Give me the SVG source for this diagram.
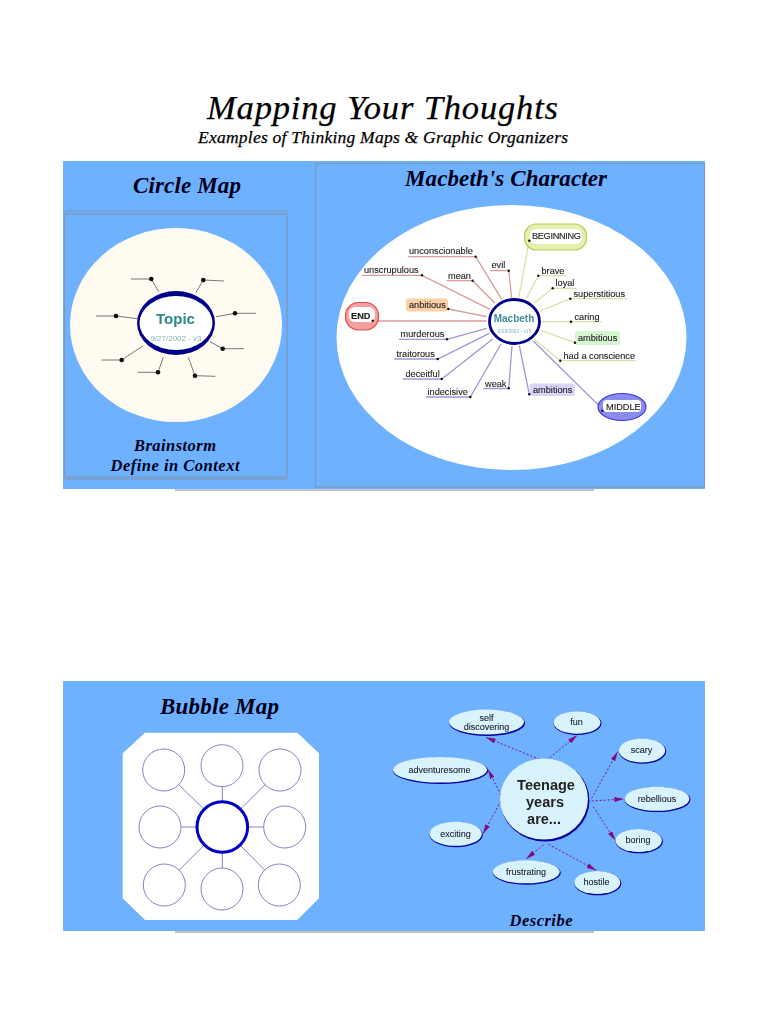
<svg xmlns="http://www.w3.org/2000/svg" width="768" height="1024" viewBox="0 0 768 1024">
<style>
.t{font-family:"Liberation Serif",serif;font-style:italic;fill:#000}
.s{stroke:#000;stroke-width:.25}
.h{font-weight:bold;font-size:23px;fill:#00001a}
.c{font-weight:bold;font-size:16.500px;fill:#00001a;text-anchor:middle}
.l{font-family:"Liberation Sans",sans-serif;font-size:9.200px;fill:#222;stroke:#222;stroke-width:.12}
.b{font-family:"Liberation Sans",sans-serif;font-size:9px;fill:#223;stroke:#223;stroke-width:.1;text-anchor:middle}
.fr{fill:none;stroke:#7f97b5;stroke-width:1.200}
.sp{fill:none;stroke:#777;stroke-width:1}
.r{fill:none;stroke:#dc9a9a;stroke-width:1.300}
.u{fill:none;stroke:#9a9ad6;stroke-width:1.300}
.g{fill:none;stroke:#dcdfa8;stroke-width:1.300}
.bb{fill:#fff;stroke:#8a80c8;stroke-width:1}
.bs{stroke:#8a80c8;stroke-width:1;fill:none}
.ar{fill:none;stroke:#80107f;stroke-width:1;stroke-dasharray:2 2;marker-end:url(#ah)}
.sh{fill:#0000a0}
.bu{fill:#d8f3fb}
</style>
<defs>
<marker id="ah" markerUnits="userSpaceOnUse" markerWidth="10" markerHeight="5" refX="9" refY="2.500" orient="auto"><path d="M0 0L10 2.500L0 5Z" fill="#80107f"/></marker>
<filter id="soft" x="-5%" y="-5%" width="110%" height="110%"><feGaussianBlur stdDeviation="0.3"/></filter>
</defs>
<rect width="768" height="1024" fill="#fff"/>
<g id="titles">
<text class="t s" x="207" y="119" font-size="34.500" textLength="351">Mapping Your Thoughts</text>
<text class="t s" x="198" y="143" font-size="17.500" textLength="370">Examples of Thinking Maps &amp; Graphic Organizers</text>
</g>
<g id="panel-top">
<rect x="63" y="161" width="642" height="328" fill="#6eb1ff"/>
<rect x="175" y="489" width="419" height="2" fill="#c4c4c4"/>
</g>
<g id="panel-bottom">
<rect x="63" y="681" width="642" height="250" fill="#6eb1ff"/>
<rect x="175" y="931" width="419" height="2" fill="#c4c4c4"/>
</g>
<g id="circle-map">
<path class="fr" d="M63 211H288M63 479H288"/>
<rect class="fr" x="64.500" y="214" width="222.500" height="263"/>
<text class="t h" x="133" y="193" textLength="108">Circle Map</text>
<ellipse cx="176" cy="325" rx="106" ry="97" fill="#fffbf0"/>
<g filter="url(#soft)">
<path class="sp" d="M158.700 291.700L151.300 279H131M196 292.300L203.300 280L224 281M216 316.700L235 313.300H256M210 341.700L222.700 348.700H244M188.300 357.300L195 375.700L215.300 376.300M163.300 357.300L158 372.300H137.700M142.700 346L121.700 360H101.700M137.300 318.700L116 316H96"/>
<ellipse cx="176" cy="323" rx="39" ry="32" fill="#00008b"/>
<ellipse cx="176" cy="323" rx="36.500" ry="27" fill="#fff"/>
<g fill="#111">
<circle cx="151.300" cy="279" r="2.300"/><circle cx="203.300" cy="280" r="2.300"/><circle cx="235" cy="313.300" r="2.300"/><circle cx="222.700" cy="348.700" r="2.300"/><circle cx="195" cy="375.700" r="2.300"/><circle cx="158" cy="372.300" r="2.300"/><circle cx="121.700" cy="360" r="2.300"/><circle cx="116" cy="316" r="2.300"/>
</g>
<text x="175.500" y="324" font-family="Liberation Sans,sans-serif" font-size="15" font-weight="bold" fill="#2b8a8a" text-anchor="middle">Topic</text>
<text x="176" y="341" font-family="Liberation Sans,sans-serif" font-size="8" fill="#7fb5b5" text-anchor="middle">9/27/2002 - v3</text>
</g>
<text class="t c" x="175" y="451" textLength="82">Brainstorm</text>
<text class="t c" x="175" y="471" textLength="129">Define in Context</text>
</g>
<g id="macbeth-map">
<rect class="fr" x="315.500" y="163.500" width="389" height="323.500"/>
<text class="t h" x="405" y="186" textLength="202">Macbeth's Character</text>
<ellipse cx="511.500" cy="337.500" rx="175" ry="132.500" fill="#fff"/>
<g id="macbeth-connectors" filter="url(#soft)">
<path class="r" d="M501.700 299.300L475.700 256.700H408.300M511.700 298.300L508.700 270.700H490M495 303.300L472.700 280.700H446.700M490 309.300L422 275.300H362.300M486.700 316.700L448.300 309M378.300 321H486.700"/>
<path class="u" d="M486.700 328.300L447 339.300H399M489.300 333.300L437.700 359H394.300M492.700 339L441.700 379H402.700M501 344L470.300 397H426M512 346L508.700 388.500H483.300M519.300 345.700L529.300 394.300M533.300 341L598.300 405"/>
<path class="g" d="M518.700 297.300L529.300 240.700M526 299L538.300 275.700H566M534 303.300L552.700 288.300H576M540 311L570.300 298.700H627.300M541.700 321.700H601.700M540.700 330.300L575 342.700M535 340L560.300 360.700H635.700"/>
</g>
<g filter="url(#soft)">
<g id="node-macbeth"><ellipse cx="514.500" cy="321.500" rx="25" ry="22" fill="#fff" stroke="#00008b" stroke-width="2.800"/>
<text x="514" y="322" font-family="Liberation Sans,sans-serif" font-size="10" font-weight="bold" fill="#3f8f9f" text-anchor="middle">Macbeth</text>
<text x="514.500" y="333" font-family="Liberation Sans,sans-serif" font-size="4.800" fill="#7fb5c5" text-anchor="middle">9/28/2002 - v13</text></g>
<g id="node-end"><rect x="345.500" y="302.500" width="33" height="27.500" rx="13" fill="#f4a0a0" stroke="#e24a4a" stroke-width="1.200"/><rect x="349" y="307" width="26" height="15" rx="6" fill="#fff"/><text class="l" x="351" y="319" font-weight="bold">END</text></g>
<g id="node-beginning"><rect x="524.500" y="224" width="62" height="26" rx="12" fill="#e4f0b0" stroke="#b5cf50" stroke-width="1.200"/><rect x="530" y="229" width="52" height="15" rx="6" fill="#fff"/><text class="l" x="532" y="238.500" textLength="49">BEGINNING</text></g>
<g id="node-middle"><ellipse cx="622" cy="407" rx="24" ry="13.500" fill="#8c8cf0" stroke="#3c3cd0" stroke-width="1.200"/><rect x="603" y="400" width="38" height="12" rx="4" fill="#fff"/><text class="l" x="606" y="409.500">MIDDLE</text></g>
<rect x="406" y="298.500" width="42" height="13" rx="3" fill="#fbd0a5"/>
<rect x="575" y="331" width="45" height="14" rx="3" fill="#d5f5d0"/>
<rect x="529.500" y="383.500" width="45.500" height="12.500" rx="3" fill="#d8d5f8"/>
<text class="l" x="409" y="254">unconscionable</text>
<text class="l" x="491.500" y="268">evil</text>
<text class="l" x="448" y="279">mean</text>
<text class="l" x="364" y="273">unscrupulous</text>
<text class="l" x="409" y="307.500">anbitious</text>
<text class="l" x="400.500" y="337">murderous</text>
<text class="l" x="396.500" y="357">traitorous</text>
<text class="l" x="405.500" y="377">deceitful</text>
<text class="l" x="427.500" y="395">indecisive</text>
<text class="l" x="485" y="386.500">weak</text>
<text class="l" x="533" y="392.500">ambitions</text>
<text class="l" x="541.500" y="274">brave</text>
<text class="l" x="555.500" y="286">loyal</text>
<text class="l" x="573.500" y="297">superstitious</text>
<text class="l" x="574.500" y="320">caring</text>
<text class="l" x="578" y="341">ambitious</text>
<text class="l" x="563.500" y="359">had a conscience</text>
<g fill="#111">
<circle cx="475.700" cy="256.700" r="1.200"/><circle cx="508.700" cy="270.700" r="1.200"/><circle cx="472.700" cy="280.700" r="1.200"/><circle cx="422" cy="275.300" r="1.200"/><circle cx="448.300" cy="309" r="1.200"/><circle cx="372.700" cy="320.700" r="1.200"/><circle cx="447" cy="339.300" r="1.200"/><circle cx="437.700" cy="359" r="1.200"/><circle cx="441.700" cy="379" r="1.200"/><circle cx="470.300" cy="397" r="1.200"/><circle cx="508.700" cy="388.300" r="1.200"/><circle cx="529.300" cy="394.300" r="1.200"/><circle cx="602.300" cy="410.700" r="1.200"/><circle cx="529.300" cy="240.700" r="1.200"/><circle cx="538.300" cy="275.700" r="1.200"/><circle cx="552.700" cy="288.300" r="1.200"/><circle cx="570.300" cy="298.700" r="1.200"/><circle cx="571" cy="321.700" r="1.200"/><circle cx="575" cy="342.700" r="1.200"/><circle cx="560.300" cy="360.700" r="1.200"/>
</g>
</g>
</g>
<g id="bubble-map">
<text class="t h" x="160" y="714" textLength="119">Bubble Map</text>
<path d="M145 732.700H297.300L319 753.300V898.300L297.300 920H145L122.700 898.300V753.300Z" fill="#fff"/>
<g id="bubble-connectors"><path class="bs" d="M222.300 827L163.700 770M222.300 827V765.700M222.300 827L280 770M222.300 827H160M222.300 827H284.700M222.300 827L164.300 885M222.300 827V889M222.300 827L279.300 885"/></g>
<g id="bubble-tl"><circle class="bb" cx="163.700" cy="770" r="21"/></g>
<g id="bubble-tm"><circle class="bb" cx="222" cy="765.700" r="21"/></g>
<g id="bubble-tr"><circle class="bb" cx="280" cy="770" r="21"/></g>
<g id="bubble-ml"><circle class="bb" cx="160" cy="827" r="21"/></g>
<g id="bubble-mr"><circle class="bb" cx="284.700" cy="827" r="21"/></g>
<g id="bubble-bl"><circle class="bb" cx="164.300" cy="885" r="21"/></g>
<g id="bubble-bm"><circle class="bb" cx="222" cy="889" r="21"/></g>
<g id="bubble-br"><circle class="bb" cx="279.300" cy="885" r="21"/></g>
<g id="bubble-center"><circle cx="222.300" cy="827" r="25.300" fill="#fff" stroke="#0000c0" stroke-width="3"/></g>
</g>
<g id="teenage-map">
<g filter="url(#soft)">
<g id="teenage-connectors">
<path class="ar" d="M543.300 761L486.700 737.700"/>
<path class="ar" d="M546.700 760L576.700 735.700"/>
<path class="ar" d="M591.700 798.300L617.300 752.300"/>
<path class="ar" d="M591.700 801L623.300 799"/>
<path class="ar" d="M593.300 806.700L615 840"/>
<path class="ar" d="M548.300 844.300L595.700 870"/>
<path class="ar" d="M543.300 845L526.700 858.300"/>
<path class="ar" d="M501 801L483.300 833.300"/>
<path class="ar" d="M501 795L488.300 770"/>
</g>
<g id="teenage-center"><ellipse class="sh" cx="545" cy="800.500" rx="44.500" ry="41"/><ellipse class="bu" cx="544" cy="799" rx="44" ry="40.500"/>
<g font-family="Liberation Sans,sans-serif" font-size="14.500" font-weight="bold" fill="#222" text-anchor="middle"><text x="546" y="790">Teenage</text><text x="545" y="807">years</text><text x="544" y="824">are...</text></g></g>
<g id="b-self"><ellipse class="sh" cx="487.200" cy="723" rx="38" ry="13"/><ellipse class="bu" cx="486.500" cy="722" rx="37.500" ry="12.500"/><text class="b" x="486.500" y="721">self</text><text class="b" x="486.500" y="730">discovering</text></g>
<g id="b-fun"><ellipse class="sh" cx="577.500" cy="723.300" rx="24" ry="11.700"/><ellipse class="bu" cx="577" cy="722.500" rx="23.500" ry="11.200"/><text class="b" x="576.500" y="725">fun</text></g>
<g id="b-scary"><ellipse class="sh" cx="642.500" cy="751.300" rx="23.700" ry="12.500"/><ellipse class="bu" cx="642" cy="750.500" rx="23.200" ry="12"/><text class="b" x="641.500" y="753">scary</text></g>
<g id="b-rebellious"><ellipse class="sh" cx="657.500" cy="799.600" rx="33" ry="12.500"/><ellipse class="bu" cx="657" cy="798.800" rx="32.500" ry="12"/><text class="b" x="657" y="801.500">rebellious</text></g>
<g id="b-boring"><ellipse class="sh" cx="639.200" cy="841.300" rx="23.700" ry="12"/><ellipse class="bu" cx="638.700" cy="840.500" rx="23.200" ry="11.500"/><text class="b" x="638" y="843">boring</text></g>
<g id="b-hostile"><ellipse class="sh" cx="597.800" cy="883.300" rx="23.500" ry="12"/><ellipse class="bu" cx="597.300" cy="882.500" rx="23" ry="11.500"/><text class="b" x="596.500" y="885">hostile</text></g>
<g id="b-frustrating"><ellipse class="sh" cx="526.800" cy="872.700" rx="34" ry="12"/><ellipse class="bu" cx="526.300" cy="871.800" rx="33.500" ry="11.500"/><text class="b" x="526" y="874.500">frustrating</text></g>
<g id="b-exciting"><ellipse class="sh" cx="456.200" cy="834.700" rx="26.700" ry="12.500"/><ellipse class="bu" cx="455.700" cy="833.800" rx="26.200" ry="12"/><text class="b" x="455.500" y="836.500">exciting</text></g>
<g id="b-adventuresome"><ellipse class="sh" cx="440.500" cy="770.700" rx="47.700" ry="13.300"/><ellipse class="bu" cx="440" cy="769.800" rx="47.200" ry="12.800"/><text class="b" x="439.500" y="773">adventuresome</text></g>
</g>
<text class="t c" x="541" y="926" textLength="63">Describe</text>
</g>
</svg>
